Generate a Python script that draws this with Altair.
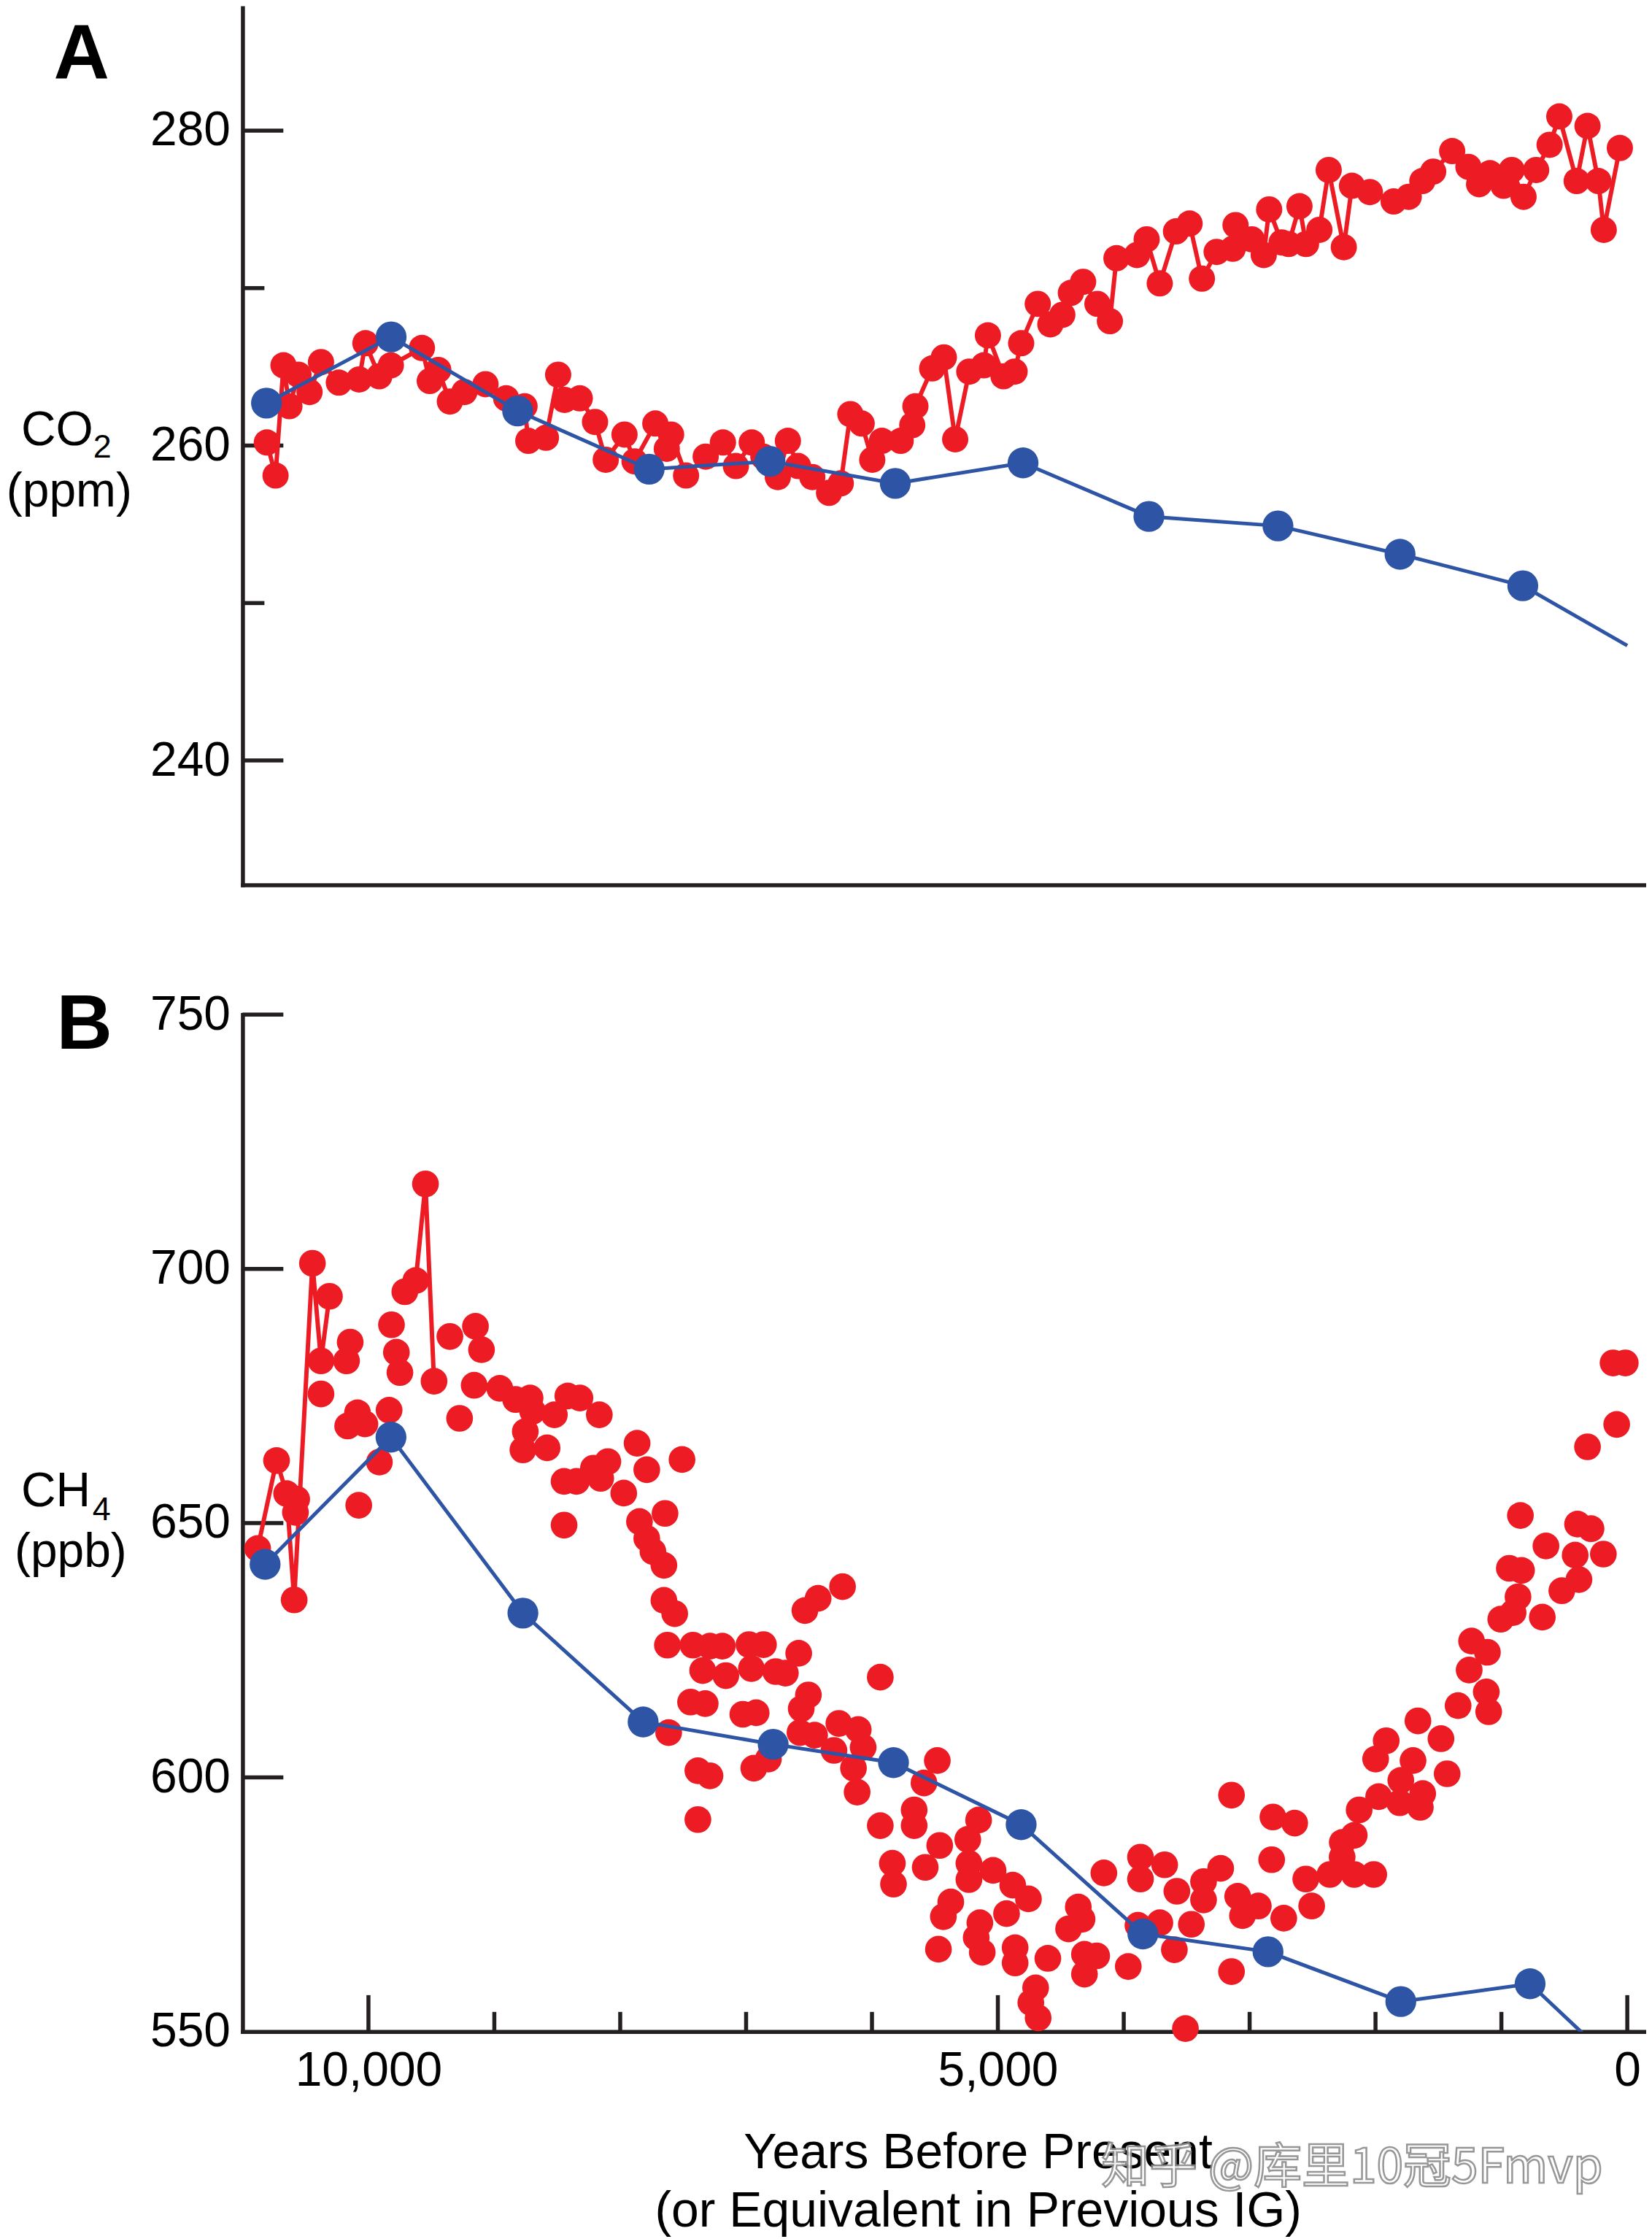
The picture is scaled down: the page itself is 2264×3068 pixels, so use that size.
import altair as alt
import pandas as pd

# ---------------- data ----------------
# Panel A: CO2, Holocene (red, connected) - years before present / ppm
co2_years = [10807, 10738, 10675, 10628, 10556, 10468, 10377, 10235, 10074, 10024,
             9914, 9822, 9575, 9513, 9445, 9353, 9238, 9070, 8906, 8760,
             8730, 8590, 8493, 8442, 8321, 8200, 8115, 7966, 7886, 7721,
             7630, 7596, 7477, 7321, 7184, 7081, 6955, 6863, 6748, 6668,
             6587, 6474, 6341, 6248, 6172, 6082, 5998, 5921, 5772, 5680,
             5655, 5522, 5429, 5339, 5227, 5111, 5079, 4955, 4867, 4815,
             4683, 4583, 4488, 4420, 4323, 4209, 4110, 4058, 3895, 3818,
             3714, 3585, 3477, 3379, 3262, 3134, 3112, 2983, 2888, 2845,
             2746, 2690, 2604, 2552, 2446, 2372, 2252, 2187, 2045, 1856,
             1736, 1628, 1542, 1391, 1262, 1177, 1091, 983, 918, 824,
             724, 617, 540, 402, 316, 230, 187, 59]
co2_ppm = [260.2, 258.1, 265.1, 262.5, 264.5, 263.4, 265.3, 264.0, 264.2, 266.5,
           264.4, 265.1, 266.2, 264.1, 264.8, 262.8, 263.4, 263.9, 263.0, 262.5,
           260.3, 260.5, 264.5, 262.9, 263.0, 261.5, 259.1, 260.7, 259.0, 261.4,
           259.8, 260.7, 258.1, 259.3, 260.2, 258.7, 260.2, 259.3, 258.0, 260.3,
           258.7, 258.0, 257.0, 257.6, 262.0, 261.4, 259.1, 260.3, 260.3, 261.3,
           262.5, 264.9, 265.6, 260.4, 264.7, 265.1, 267.0, 264.4, 264.7, 266.5,
           269.0, 267.7, 268.3, 269.7, 270.4, 269.0, 267.9, 271.9, 272.1, 273.1,
           270.3, 273.6, 274.1, 270.6, 272.3, 272.5, 274.0, 273.1, 272.1, 275.0,
           272.9, 272.8, 275.2, 272.8, 273.7, 277.5, 272.6, 276.5, 276.1, 275.5,
           275.8, 276.8, 277.4, 278.7, 277.7, 276.6, 277.3, 276.5, 277.5, 275.8,
           277.5, 279.1, 280.9, 276.8, 280.3, 276.8, 273.7, 278.9]

# Panel A: CO2, previous interglacial equivalent (blue); last value is the line end only
co2_prev_years = [10810, 9820, 8815, 7770, 6810, 5815, 4800, 3800, 2775, 1805, 830, 0]
co2_prev_ppm = [262.7, 266.9, 262.2, 258.5, 259.0, 257.6, 258.9, 255.5, 254.9, 253.1, 251.1, 247.3]

# Panel B: CH4, Holocene (red dots)
ch4_years = [10880, 10730, 10650, 10570, 10580, 10590, 10445, 10310, 10377, 10145,
             10174, 10377, 10087, 10165, 10028, 9836, 9913, 10077, 9817, 9778,
             9750, 9711, 9624, 9547, 9479, 9353, 9150, 9102, 9160, 9276,
             8957, 8831, 8716, 8696, 8754, 8773, 8581, 8523, 8416, 8320,
             8166, 8446, 8348, 8213, 8098, 8155, 7972, 7866, 7789, 7509,
             8446, 7847, 7644, 7789, 7740, 7653, 7653, 7567, 7625, 7422,
             7345, 7441, 7325, 7615, 7383, 7287, 7383, 7287, 7189, 7161,
             6977, 6862, 6958, 6765, 6688, 6582, 6533, 6428, 6234, 7026,
             6920, 6505, 6562, 6939, 6823, 6572, 6456, 6263, 6109, 6302,
             6070, 6147, 6118, 5934, 5481, 5587, 5934, 5838, 5829, 5665,
             5665, 5153, 5462, 5577, 5239, 5230, 5230, 5038, 4882, 4757,
             5374, 5433, 5143, 4931, 5172, 5472, 5124, 4863, 4863, 4603,
             4700, 4738, 4680, 4361, 4331, 4438, 4312, 4215, 4312, 4158,
             3964, 3867, 3867, 3675, 3887, 3713, 3598, 3578, 3463, 3366,
             3366, 3230, 3510, 3144, 3095, 3057, 2931, 3144, 2815, 2642,
             2825, 2729, 2507, 2554, 2362, 2265, 2169, 2014, 2169, 2130,
             1975, 1999, 113, 16, 84, 316, 849, 395, 288, 646,
             190, 414, 937, 840, 384, 520, 868, 675, 1005, 907,
             1237, 1111, 1256, 1120, 1344, 1101, 1663, 1480, 1915, 1702,
             1431, 1799, 1625, 1644, 1808, 2264]
ch4_ppb = [645.0, 662.3, 655.8, 654.7, 652.1, 634.9, 701.1, 694.6, 681.9, 685.6,
           681.9, 675.4, 671.7, 669.1, 669.5, 672.2, 662.0, 653.5, 689.0, 683.6,
           679.6, 695.5, 697.7, 716.7, 677.9, 686.7, 688.7, 684.1, 677.1, 670.6,
           676.5, 674.3, 674.6, 672.0, 668.0, 664.4, 664.8, 671.3, 675.0, 674.6,
           671.3, 658.2, 658.2, 660.8, 662.1, 658.8, 655.9, 665.7, 660.5, 662.5,
           649.6, 650.3, 651.9, 647.0, 644.4, 641.7, 634.8, 632.2, 626.0, 626.0,
           621.0, 614.8, 614.5, 608.8, 601.3, 600.3, 591.7, 625.8, 625.8, 620.0,
           626.1, 626.1, 621.4, 620.8, 620.5, 624.4, 632.8, 635.2, 637.5, 612.4,
           612.7, 616.2, 613.5, 601.8, 603.6, 608.8, 608.3, 610.6, 609.4, 605.3,
           605.9, 601.8, 597.1, 619.7, 603.3, 598.9, 590.5, 583.1, 579.0, 593.6,
           590.5, 591.6, 586.6, 582.3, 587.8, 583.1, 579.9, 581.7, 578.8, 576.1,
           575.5, 572.6, 571.4, 573.2, 568.5, 566.2, 565.6, 566.5, 563.5, 564.4,
           558.6, 555.7, 552.7, 574.5, 572.1, 570.2, 565.2, 564.9, 561.3, 581.2,
           562.8, 584.3, 580.0, 582.8, 570.9, 571.4, 566.1, 577.6, 571.1, 579.5,
           575.9, 582.1, 550.6, 596.5, 576.6, 572.8, 574.7, 561.8, 592.2, 591.0,
           583.8, 572.3, 574.7, 580.0, 580.9, 584.3, 580.9, 580.9, 588.6, 593.6,
           596.2, 603.6, 681.5, 681.5, 669.4, 665.0, 651.5, 649.8, 648.9, 645.5,
           643.9, 643.7, 641.1, 640.7, 638.9, 636.7, 635.5, 631.5, 631.1, 632.4,
           626.8, 624.6, 621.1, 616.8, 614.1, 612.9, 611.1, 607.6, 607.2, 603.3,
           600.7, 599.4, 596.8, 594.1, 595.0, 587.2]

# Panel B: the two connected stretches of the red record
ch4_seg1_years = [10880, 10730, 10650, 10590, 10445, 10377, 10310]
ch4_seg1_ppb = [645.0, 662.3, 655.8, 634.9, 701.1, 681.9, 694.6]
ch4_seg2_years = [9711, 9624, 9547, 9479]
ch4_seg2_ppb = [695.5, 697.7, 716.7, 677.9]

# Panel B: CH4, previous interglacial (blue); last value is the line end only
ch4_prev_years = [10821, 9821, 8773, 7818, 6785, 5829, 4815, 3848, 2854, 1799, 772, 0]
ch4_prev_ppb = [641.9, 666.9, 632.3, 610.9, 606.5, 602.9, 590.7, 569.2, 565.7, 555.9, 559.4, 541.4]

# ticks and labels
co2_labels = [240, 260, 280]
co2_minor = [250, 270]
ch4_labels = [550, 600, 650, 700, 750]
ch4_ticks = [600, 650, 700, 750]
year_labels = [10000, 5000, 0]
year_minor = [9000, 8000, 7000, 6000, 4000, 3000, 2000, 1000]

# ---------------- style ----------------
W = 1927
HA = 1204
HB = 1396
RED = "#ED1C24"
BLUE = "#2E55A5"
INK = "#231F20"
FONT = "Liberation Sans"
FS = 66
AXW = 5.5

xs = alt.Scale(domain=[11000, -150], nice=False, zero=False)
ysA = alt.Scale(domain=[232.1, 287.8], nice=False, zero=False)
ysB = alt.Scale(domain=[550, 750], nice=False, zero=False)

xaxA = alt.Axis(labels=False, ticks=False, tickSize=0, title=None, grid=False,
                domainColor=INK, domainWidth=AXW, domainCap="square")
yaxA = alt.Axis(values=co2_labels, ticks=False, tickSize=0, labelPadding=17,
                labelFontSize=FS, labelFont=FONT, labelColor="black", title=None,
                grid=False, domainColor=INK, domainWidth=AXW, domainCap="square")
xaxB = alt.Axis(values=year_labels, format=",d", ticks=False, tickSize=0, labelPadding=22,
                labelFontSize=FS, labelFont=FONT, labelColor="black", title=None,
                grid=False, domainColor=INK, domainWidth=AXW, domainCap="square",
                labelFlush=False, labelOverlap=False, labelLimit=600)
yaxB = alt.Axis(values=ch4_labels, ticks=False, tickSize=0, labelPadding=17,
                labelFontSize=FS, labelFont=FONT, labelColor="black", title=None,
                grid=False, domainColor=INK, domainWidth=AXW, domainCap="square")


def label(text, x, y, size=FS, weight="normal", align="left"):
    return alt.Chart(pd.DataFrame({"t": [text]})).mark_text(
        font=FONT, fontSize=size, fontWeight=weight, align=align,
        baseline="alphabetic", color="black"
    ).encode(x=alt.value(x), y=alt.value(y), text="t:N")


# ---------------- panel A ----------------
dfA = pd.DataFrame({"year": co2_years, "ppm": co2_ppm, "seq": list(range(len(co2_years)))})
dfAp = pd.DataFrame({"year": co2_prev_years, "ppm": co2_prev_ppm,
                     "seq": list(range(len(co2_prev_years)))})

XA = alt.X("year:Q", scale=xs, axis=xaxA)
YA = alt.Y("ppm:Q", scale=ysA, axis=yaxA)

redA_line = alt.Chart(dfA).mark_line(color=RED, strokeWidth=6).encode(x=XA, y=YA, order="seq:Q")
redA_pts = alt.Chart(dfA).mark_circle(color=RED, opacity=1, size=1300).encode(x=XA, y=YA)
blueA_line = alt.Chart(dfAp).mark_line(color=BLUE, strokeWidth=5).encode(x=XA, y=YA, order="seq:Q")
blueA_pts = alt.Chart(dfAp).transform_filter("datum.year > 0").mark_circle(
    color=BLUE, opacity=1, size=1800).encode(x=XA, y=YA)

ticksA_major = alt.Chart(pd.DataFrame({"ppm": co2_labels})).mark_rule(
    color=INK, strokeWidth=AXW).encode(y=YA, x=alt.value(0), x2=alt.value(56))
ticksA_minor = alt.Chart(pd.DataFrame({"ppm": co2_minor})).mark_rule(
    color=INK, strokeWidth=AXW).encode(y=YA, x=alt.value(0), x2=alt.value(30))

panelA = alt.layer(
    ticksA_major, ticksA_minor, redA_line, redA_pts, blueA_line, blueA_pts,
    label("A", -221, 97, size=106, weight="bold", align="center"),
    label("CO", -304, 600),
    label("2", -205, 617, size=45),
    label("(ppm)", -238, 684, align="center"),
).properties(width=W, height=HA)

# ---------------- panel B ----------------
dfB = pd.DataFrame({"year": ch4_years, "ppb": ch4_ppb})
dfS = pd.DataFrame({
    "year": ch4_seg1_years + ch4_seg2_years,
    "ppb": ch4_seg1_ppb + ch4_seg2_ppb,
    "seg": ["a"] * len(ch4_seg1_years) + ["b"] * len(ch4_seg2_years),
    "seq": list(range(len(ch4_seg1_years) + len(ch4_seg2_years))),
})
dfBp = pd.DataFrame({"year": ch4_prev_years, "ppb": ch4_prev_ppb,
                     "seq": list(range(len(ch4_prev_years)))})

XB = alt.X("year:Q", scale=xs, axis=xaxB)
YB = alt.Y("ppb:Q", scale=ysB, axis=yaxB)

redB_line = alt.Chart(dfS).mark_line(color=RED, strokeWidth=6).encode(
    x=XB, y=YB, detail="seg:N", order="seq:Q")
redB_pts = alt.Chart(dfB).mark_circle(color=RED, opacity=1, size=1350).encode(x=XB, y=YB)
blueB_line = alt.Chart(dfBp).mark_line(color=BLUE, strokeWidth=5, clip=True).encode(
    x=XB, y=YB, order="seq:Q")
blueB_pts = alt.Chart(dfBp).transform_filter("datum.year > 0").mark_circle(
    color=BLUE, opacity=1, size=1800).encode(x=XB, y=YB)

ticksB_y = alt.Chart(pd.DataFrame({"ppb": ch4_ticks})).mark_rule(
    color=INK, strokeWidth=AXW).encode(y=YB, x=alt.value(0), x2=alt.value(56))
ticksB_xmaj = alt.Chart(pd.DataFrame({"year": year_labels})).mark_rule(
    color=INK, strokeWidth=AXW).encode(x=XB, y=alt.value(HB), y2=alt.value(HB - 50))
ticksB_xmin = alt.Chart(pd.DataFrame({"year": year_minor})).mark_rule(
    color=INK, strokeWidth=AXW).encode(x=XB, y=alt.value(HB), y2=alt.value(HB - 27))

watermark = alt.Chart(pd.DataFrame({"t": ["知乎 @库里10冠5Fmvp"]})).mark_text(
    font="Noto Sans CJK SC", fontSize=66, align="left", baseline="alphabetic",
    fill="white", stroke="#8c8c8c", strokeWidth=2.5, opacity=0.9
).encode(x=alt.value(1179), y=alt.value(1604), text="t:N")

panelB = alt.layer(
    ticksB_y, ticksB_xmaj, ticksB_xmin, redB_line, redB_pts, blueB_line, blueB_pts,
    label("B", -217, 47, size=106, weight="bold", align="center"),
    label("CH", -304, 675),
    label("4", -206, 694, size=45),
    label("(ppb)", -236, 758, align="center"),
    label("Years Before Present", 1010, 1584, size=68, align="center"),
    label("(or Equivalent in Previous IG)", 1010, 1664, size=68, align="center"),
    watermark,
).properties(width=W, height=HB)

chart = alt.vconcat(panelA, panelB, spacing=178, bounds="flush").properties(
    padding=0
).configure_view(stroke=None)

chart.save("out.html", embed_options={"renderer": "svg", "actions": False})
